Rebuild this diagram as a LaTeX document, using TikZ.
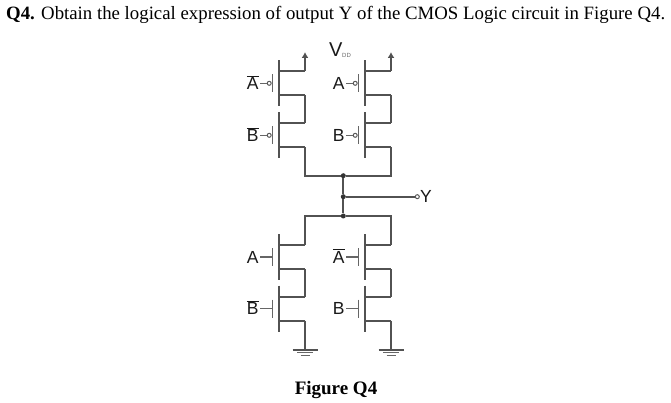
\documentclass[tikz,border=0pt]{standalone}
\usepackage{fontspec}
\setmainfont{Liberation Serif}
\setsansfont{Liberation Sans}
\usetikzlibrary{arrows.meta}
\newcommand{\barA}{$\overline{\mbox{A}}$}
\newcommand{\barB}{$\overline{\mbox{B}}$}
\tikzset{
    wire/.style={draw=black!68, line width=1.7pt},
    stub/.style={draw=black!60, line width=1.1pt},
    dot/.style={circle, fill=black!80, inner sep=0pt, minimum size=5pt},
    bubble/.style={circle, draw=black!65, fill=white, line width=1pt, inner sep=0pt, minimum size=4pt},
    gatelabel/.style={anchor=base, font=\sffamily\fontsize{17.5}{19}\selectfont, text=black!90, inner sep=0pt},
    titletext/.style={anchor=base west, font=\fontsize{18.8}{21}\selectfont, inner sep=0pt}
}
\begin{document}
\begin{tikzpicture}[x=1pt, y=-1pt]
    \useasboundingbox (0,0) rectangle (671,403);

    \node[titletext] (title) at (6,20) {\textbf{Q4.} Obtain the logical expression of output Y of the CMOS Logic circuit in Figure Q4.};

    % pull-up transistors
    \foreach \name/\xpos/\ypos/\txt in {pa/278.7/83.3/\barA, pb/278.7/135.3/\barB, pc/364.7/83.3/A, pd/364.7/135.3/B} {
        \coordinate (\name-d) at (\xpos+26.3,\ypos-12);
        \coordinate (\name-s) at (\xpos+26.3,\ypos+12);
        \draw[wire] (\xpos,\ypos-23) -- (\xpos,\ypos+23);
        \draw[wire] (\xpos,\ypos-12) -- (\name-d);
        \draw[wire] (\xpos,\ypos+12) -- (\name-s);
        \draw[stub] (\xpos-6.4,\ypos-9) -- (\xpos-6.4,\ypos+9);
        \node[bubble] (\name-g) at (\xpos-9.5,\ypos) {};
        \node[gatelabel] (\name-l) at (\xpos-26,\ypos+6) {\txt};
        \draw[stub] (\xpos-18.7,\ypos) -- (\name-g);
    }

    % pull-down transistors
    \foreach \name/\xpos/\ypos/\txt in {na/278.7/257/A, nb/278.7/308.7/\barB, nc/364.7/257/\barA, nd/364.7/308.7/B} {
        \coordinate (\name-d) at (\xpos+26.3,\ypos-12);
        \coordinate (\name-s) at (\xpos+26.3,\ypos+12);
        \draw[wire] (\xpos,\ypos-23) -- (\xpos,\ypos+23);
        \draw[wire] (\xpos,\ypos-12) -- (\name-d);
        \draw[wire] (\xpos,\ypos+12) -- (\name-s);
        \draw[stub] (\xpos-6.4,\ypos-9) -- (\xpos-6.4,\ypos+9);
        \node[gatelabel] (\name-l) at (\xpos-26,\ypos+6) {\txt};
        \draw[stub] (\xpos-18.7,\ypos) -- (\xpos-6.4,\ypos);
    }

    \node[dot] (top) at (343.3,175.7) {};
    \node[dot] (mid) at (343.3,196.7) {};
    \node[dot] (low) at (343.3,216) {};
    \node[bubble] (out) at (417.3,196.7) {};
    \node[gatelabel, anchor=base west] (Y) at (420,203) {Y};

    \coordinate (vl) at (305,52);
    \coordinate (vr) at (391,52);
    \coordinate (gl) at (305,349.7);
    \coordinate (gr) at (391,349.7);

    \node[gatelabel, font=\sffamily\fontsize{20}{22}\selectfont] (vdd) at (335.7,57) {V};
    \node[anchor=base, font=\sffamily\fontsize{6}{7}\selectfont, text=black!60, inner sep=0pt] (vddsub) at (346.5,58) {DD};

    % wiring
    \draw[wire, -{Latex[length=6pt,width=7pt]}] (pa-d) -- (vl);
    \draw[wire, -{Latex[length=6pt,width=7pt]}] (pc-d) -- (vr);
    \draw[wire] (pa-s) -- (pb-d);
    \draw[wire] (pc-s) -- (pd-d);
    \draw[wire] (pb-s) |- (top) -| (pd-s);
    \draw[wire] (top) -- (mid) -- (low);
    \draw[wire] (mid) -- (out);
    \draw[wire] (na-d) |- (low) -| (nc-d);
    \draw[wire] (na-s) -- (nb-d);
    \draw[wire] (nc-s) -- (nd-d);
    \draw[wire] (nb-s) -- (gl);
    \draw[wire] (nd-s) -- (gr);

    % grounds
    \foreach \g in {gl,gr} {
        \draw[wire] ([xshift=-12.5pt]\g) -- ([xshift=12.5pt]\g);
        \draw[stub] ([xshift=-8pt,yshift=-3pt]\g) -- ([xshift=8pt,yshift=-3pt]\g);
        \draw[stub] ([xshift=-4.5pt,yshift=-5.5pt]\g) -- ([xshift=4.5pt,yshift=-5.5pt]\g);
    }

    \node[anchor=base, font=\bfseries\fontsize{19}{21}\selectfont, inner sep=0pt] (caption) at (336,394) {Figure Q4};
\end{tikzpicture}
\end{document}
